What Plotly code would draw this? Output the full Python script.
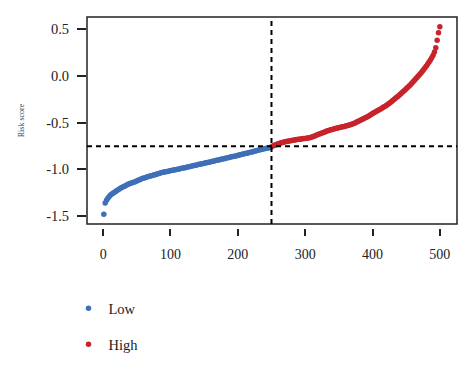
import numpy as np
import plotly.graph_objects as go

# ---- data ----
low_ranks = list(range(1, 250, 2))
low_values = [
    -1.48, -1.36, -1.33, -1.31, -1.29, -1.275, -1.265, -1.255, -1.245, -1.235,
    -1.225, -1.215, -1.205, -1.198, -1.19, -1.183, -1.176, -1.168, -1.16, -1.155,
    -1.15, -1.145, -1.14, -1.135, -1.128, -1.12, -1.115, -1.108, -1.102, -1.097,
    -1.092, -1.088, -1.083, -1.078, -1.074, -1.07, -1.066, -1.062, -1.058, -1.053,
    -1.049, -1.045, -1.04, -1.035, -1.032, -1.029, -1.026, -1.023, -1.02, -1.017,
    -1.014, -1.011, -1.008, -1.005, -1.002, -0.999, -0.996, -0.993, -0.99, -0.987,
    -0.984, -0.98, -0.977, -0.973, -0.97, -0.967, -0.963, -0.96, -0.957, -0.953,
    -0.95, -0.947, -0.944, -0.94, -0.937, -0.934, -0.931, -0.928, -0.925, -0.921,
    -0.918, -0.914, -0.911, -0.907, -0.904, -0.9, -0.897, -0.894, -0.89, -0.887,
    -0.884, -0.88, -0.877, -0.874, -0.87, -0.867, -0.863, -0.86, -0.857, -0.853,
    -0.85, -0.846, -0.843, -0.839, -0.835, -0.832, -0.828, -0.825, -0.821, -0.818,
    -0.814, -0.81, -0.806, -0.802, -0.798, -0.795, -0.791, -0.788, -0.784, -0.781,
    -0.778, -0.775, -0.772, -0.768, -0.764,
]
high_ranks = list(range(252, 501, 2))
high_values = [
    -0.752, -0.745, -0.738, -0.732, -0.727, -0.722, -0.718, -0.714, -0.71, -0.707,
    -0.704, -0.701, -0.698, -0.695, -0.692, -0.69, -0.687, -0.685, -0.683, -0.68,
    -0.678, -0.676, -0.674, -0.672, -0.67, -0.668, -0.666, -0.664, -0.66, -0.655,
    -0.65, -0.644, -0.638, -0.632, -0.626, -0.62, -0.615, -0.61, -0.604, -0.598,
    -0.592, -0.587, -0.582, -0.578, -0.574, -0.57, -0.566, -0.562, -0.558, -0.555,
    -0.552, -0.549, -0.546, -0.542, -0.538, -0.534, -0.53, -0.526, -0.521, -0.516,
    -0.51, -0.504, -0.497, -0.49, -0.483, -0.476, -0.469, -0.462, -0.455, -0.447,
    -0.44, -0.432, -0.423, -0.414, -0.405, -0.396, -0.388, -0.38, -0.372, -0.364,
    -0.356, -0.347, -0.338, -0.329, -0.32, -0.31, -0.3, -0.29, -0.278, -0.266,
    -0.254, -0.242, -0.23, -0.218, -0.205, -0.192, -0.18, -0.167, -0.154, -0.14,
    -0.126, -0.112, -0.098, -0.083, -0.068, -0.052, -0.036, -0.02, -0.004, 0.013,
    0.03, 0.048, 0.066, 0.085, 0.105, 0.125, 0.146, 0.168, 0.192, 0.22,
    0.255, 0.3, 0.38, 0.46, 0.525,
]
cutoff_rank = 250
cutoff_value = -0.755
x_ticks = [0, 100, 200, 300, 400, 500]
y_ticks = [0.5, 0.0, -0.5, -1.0, -1.5]
y_tick_labels = ["0.5", "0.0", "-0.5", "-1.0", "-1.5"]
series_names = ["Low", "High"]

BLUE = "#3F6FB6"
RED = "#C8232B"
SERIF = "Liberation Serif, Times New Roman, serif"

fig = go.Figure()
fig.add_trace(go.Scatter(x=low_ranks, y=low_values, mode="markers", name=series_names[0],
                         legendgroup="a",
                         marker=dict(color=BLUE, size=5.5, line=dict(width=0))))
fig.add_trace(go.Scatter(x=high_ranks, y=high_values, mode="markers", name=series_names[1],
                         legendgroup="b",
                         marker=dict(color=RED, size=5.5, line=dict(width=0))))

dom0 = 0.019
# frame
fig.add_shape(type="rect", xref="paper", yref="paper", x0=0, x1=1, y0=dom0, y1=1,
              line=dict(color="#222", width=1.5), layer="above")
# cutoff lines
fig.add_shape(type="line", xref="x", yref="paper", x0=cutoff_rank, x1=cutoff_rank,
              y0=dom0, y1=1, line=dict(color="black", width=2, dash="5px,4px"))
fig.add_shape(type="line", xref="paper", yref="y", x0=0, x1=1,
              y0=cutoff_value, y1=cutoff_value,
              line=dict(color="black", width=2, dash="5px,4px"))

fig.update_layout(
    width=474, height=369,
    margin=dict(l=79, r=25, t=9, b=149),
    paper_bgcolor="white", plot_bgcolor="white",
    font=dict(family=SERIF, size=14, color="#222"),
    showlegend=True,
    legend=dict(x=-0.05, y=-0.305, xanchor="left", yanchor="top",
                traceorder="grouped", tracegroupgap=14,
                font=dict(family=SERIF, size=14.5, color="#222"),
                itemwidth=30, bgcolor="rgba(0,0,0,0)"),
    xaxis=dict(range=[-24, 525.5], tickvals=x_ticks, ticks="outside", ticklen=7,
               tickwidth=1.5, tickcolor="#222", showgrid=False, zeroline=False,
               showline=False, anchor="free", position=0,
               ticklabelstandoff=6,
               tickfont=dict(family=SERIF, size=14, color="#222")),
    yaxis=dict(range=[-1.585, 0.628], domain=[dom0, 1], tickvals=y_ticks,
               ticktext=y_tick_labels, ticks="outside", ticklen=9, tickwidth=1.5,
               tickcolor="#222", showgrid=False, zeroline=False, showline=False,
               ticklabelstandoff=5,
               tickfont=dict(family=SERIF, size=14.5, color="#222"),
               title=dict(text="Risk score", standoff=20,
                          font=dict(family=SERIF, size=8, color="#444"))),
)

fig.write_html("out.html")
